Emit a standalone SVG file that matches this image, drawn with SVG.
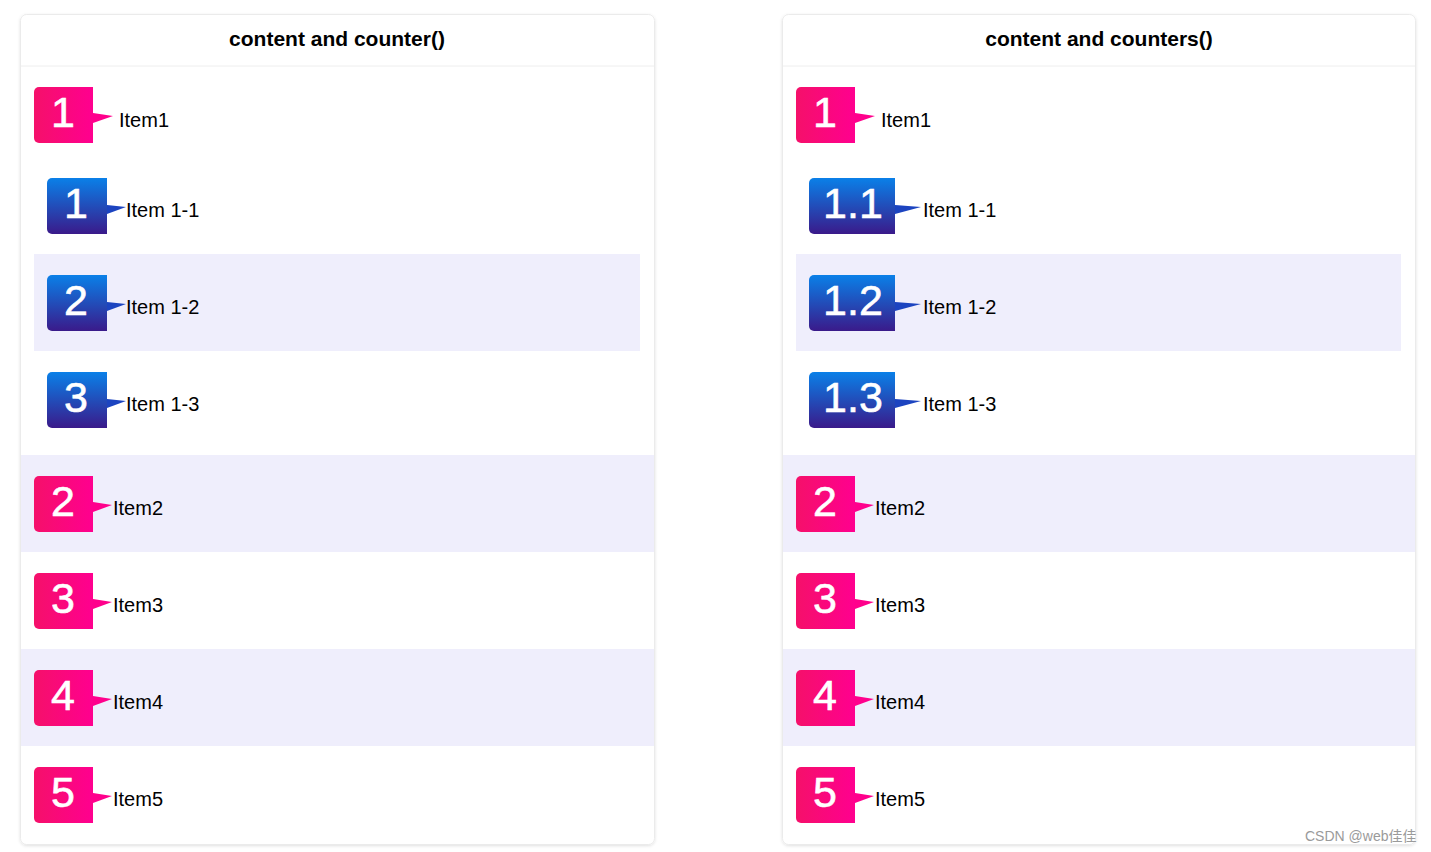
<svg xmlns="http://www.w3.org/2000/svg" width="1431" height="852" viewBox="0 0 1431 852">
<defs>
<linearGradient id="pink" x1="0" y1="0" x2="1" y2="0"><stop offset="0" stop-color="#f5106a"/><stop offset="1" stop-color="#ff008f"/></linearGradient>
<linearGradient id="blue" x1="0" y1="0" x2="0" y2="1"><stop offset="0" stop-color="#0a80e8"/><stop offset="1" stop-color="#3a1a8a"/></linearGradient>
<filter id="sh" x="-5%" y="-5%" width="110%" height="110%"><feDropShadow dx="0" dy="1" stdDeviation="1.5" flood-color="#000" flood-opacity="0.12"/></filter>
<path id="pb" d="M5,0 H59 V56 H5 A5,5 0 0 1 0,51 V5 A5,5 0 0 1 5,0 Z"/>
<path id="bb" d="M5,0 H60 V56 H5 A5,5 0 0 1 0,51 V5 A5,5 0 0 1 5,0 Z"/>
<path id="bbw" d="M5,0 H86 V56 H5 A5,5 0 0 1 0,51 V5 A5,5 0 0 1 5,0 Z"/>
</defs>
<style>
.panel{fill:#fff;stroke:#ebebeb;stroke-width:1}
.sep{stroke:#eeeeee;stroke-width:1}
.hl{fill:#efeefc}
.title{font-family:"Liberation Sans",Arial,sans-serif;font-size:21px;font-weight:bold;fill:#000;text-anchor:middle}
.item{font-family:"Liberation Sans",Arial,sans-serif;font-size:20px;fill:#000}
.num{font-family:"Liberation Sans",Arial,sans-serif;font-size:43px;fill:#fff;stroke:#fff;stroke-width:0.6;text-anchor:middle}
.pk{fill:url(#pink)}
.pkp{fill:#ff008c}
.bl{fill:url(#blue)}
.blp{fill:#1c44c0}
.wm{font-family:"Liberation Sans","Noto Sans CJK SC",sans-serif;font-size:14px;fill:#9a9a9a}
</style>
<rect width="1431" height="852" fill="#fff"/>

<g id="panel-left">
<rect class="panel" x="20.5" y="14.5" width="634" height="830" rx="6" filter="url(#sh)"/>
<line class="sep" x1="21" y1="66" x2="654" y2="66"/>
<text class="title" x="337" y="46">content and counter()</text>
<rect class="hl" x="34" y="254" width="606" height="97"/>
<rect class="hl" x="21" y="455" width="633" height="97"/>
<rect class="hl" x="21" y="649" width="633" height="97"/>
</g>

<g id="panel-right">
<rect class="panel" x="782.5" y="14.5" width="633" height="830" rx="6" filter="url(#sh)"/>
<line class="sep" x1="783" y1="66" x2="1415" y2="66"/>
<text class="title" x="1099" y="46">content and counters()</text>
<rect class="hl" x="796" y="254" width="605" height="97"/>
<rect class="hl" x="783" y="455" width="632" height="97"/>
<rect class="hl" x="783" y="649" width="632" height="97"/>
</g>

<g id="left-item1"><use href="#pb" class="pk" x="34" y="87"/><polygon class="pkp" points="93,113 113,116 93,123"/><text class="num" x="63" y="127">1</text><text class="item" x="119" y="127">Item1</text></g>
<g id="left-item1-1"><use href="#bb" class="bl" x="47" y="178"/><polygon class="blp" points="107,205 126,207 107,214"/><text class="num" x="76" y="218">1</text><text class="item" x="126" y="217">Item 1-1</text></g>
<g id="left-item1-2"><use href="#bb" class="bl" x="47" y="275"/><polygon class="blp" points="107,302 126,304 107,311"/><text class="num" x="76" y="315">2</text><text class="item" x="126" y="314">Item 1-2</text></g>
<g id="left-item1-3"><use href="#bb" class="bl" x="47" y="372"/><polygon class="blp" points="107,399 126,401 107,408"/><text class="num" x="76" y="412">3</text><text class="item" x="126" y="411">Item 1-3</text></g>
<g id="left-item2"><use href="#pb" class="pk" x="34" y="476"/><polygon class="pkp" points="93,502 112,505 93,512"/><text class="num" x="63" y="516">2</text><text class="item" x="113" y="515">Item2</text></g>
<g id="left-item3"><use href="#pb" class="pk" x="34" y="573"/><polygon class="pkp" points="93,599 112,602 93,609"/><text class="num" x="63" y="613">3</text><text class="item" x="113" y="612">Item3</text></g>
<g id="left-item4"><use href="#pb" class="pk" x="34" y="670"/><polygon class="pkp" points="93,696 112,699 93,706"/><text class="num" x="63" y="710">4</text><text class="item" x="113" y="709">Item4</text></g>
<g id="left-item5"><use href="#pb" class="pk" x="34" y="767"/><polygon class="pkp" points="93,793 112,796 93,803"/><text class="num" x="63" y="807">5</text><text class="item" x="113" y="806">Item5</text></g>

<g id="right-item1"><use href="#pb" class="pk" x="796" y="87"/><polygon class="pkp" points="855,113 875,116 855,123"/><text class="num" x="825" y="127">1</text><text class="item" x="881" y="127">Item1</text></g>
<g id="right-item1-1"><use href="#bbw" class="bl" x="809" y="178"/><polygon class="blp" points="895,205 921,207 895,214"/><text class="num" x="853" y="218">1.1</text><text class="item" x="923" y="217">Item 1-1</text></g>
<g id="right-item1-2"><use href="#bbw" class="bl" x="809" y="275"/><polygon class="blp" points="895,302 921,304 895,311"/><text class="num" x="853" y="315">1.2</text><text class="item" x="923" y="314">Item 1-2</text></g>
<g id="right-item1-3"><use href="#bbw" class="bl" x="809" y="372"/><polygon class="blp" points="895,399 921,401 895,408"/><text class="num" x="853" y="412">1.3</text><text class="item" x="923" y="411">Item 1-3</text></g>
<g id="right-item2"><use href="#pb" class="pk" x="796" y="476"/><polygon class="pkp" points="855,502 874,505 855,512"/><text class="num" x="825" y="516">2</text><text class="item" x="875" y="515">Item2</text></g>
<g id="right-item3"><use href="#pb" class="pk" x="796" y="573"/><polygon class="pkp" points="855,599 874,602 855,609"/><text class="num" x="825" y="613">3</text><text class="item" x="875" y="612">Item3</text></g>
<g id="right-item4"><use href="#pb" class="pk" x="796" y="670"/><polygon class="pkp" points="855,696 874,699 855,706"/><text class="num" x="825" y="710">4</text><text class="item" x="875" y="709">Item4</text></g>
<g id="right-item5"><use href="#pb" class="pk" x="796" y="767"/><polygon class="pkp" points="855,793 874,796 855,803"/><text class="num" x="825" y="807">5</text><text class="item" x="875" y="806">Item5</text></g>

<g id="connectors"/>

<text class="wm" x="1305" y="841">CSDN @web佳佳</text>
</svg>
